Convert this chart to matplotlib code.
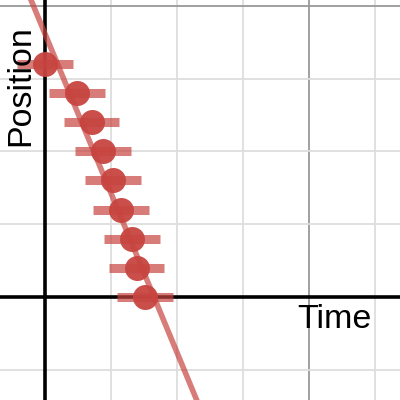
import numpy as np
import matplotlib.pyplot as plt

# data
time = [0.0, 0.485, 0.71, 0.88, 1.03, 1.15, 1.32, 1.39, 1.515]
position = [3.2, 2.8, 2.4, 2.0, 1.6, 1.2, 0.8, 0.4, 0.0]
time_err = 0.42
fit_slope = -2.19
fit_intercept = 3.62

red = '#c74440'

fig = plt.figure(figsize=(4, 4), dpi=100)
ax = fig.add_axes([0, 0, 1, 1])
xmin, xmax = -0.68, 5.38
ymin, ymax = -1.416, 4.08
ax.set_xlim(xmin, xmax)
ax.set_ylim(ymin, ymax)

# grid like a graphing calculator
for gx in range(-1, 6):
    c = '#999999' if gx == 4 else '#dddddd'
    ax.axvline(gx, color=c, lw=1.3, zorder=0)
for gy in range(-2, 5):
    c = '#999999' if gy == 4 else '#dddddd'
    ax.axhline(gy, color=c, lw=1.3, zorder=0)
ax.axvline(0, color='black', lw=2.6, zorder=1)
ax.axhline(0, color='black', lw=2.6, zorder=1)

xs = np.array([xmin, xmax])
ax.plot(xs, fit_slope * xs + fit_intercept, color=red, lw=4, alpha=0.7,
        solid_capstyle='butt', zorder=2)

ax.errorbar(time, position, xerr=time_err, fmt='none', ecolor=red,
            elinewidth=6.5, alpha=0.7, capsize=0, zorder=3)
ax.plot(time, position, 'o', color=red, ms=18, mec='none', alpha=0.95, zorder=4)

ax.text(3.82, -0.43, 'Time', fontsize=24.5, family='Liberation Sans',
        ha='left', va='baseline')
ax.text(-0.13, 2.07, 'Position', fontsize=24.5, family='Liberation Sans',
        rotation=90, ha='right', va='bottom')

ax.set_xticks([])
ax.set_yticks([])
for s in ax.spines.values():
    s.set_visible(False)

fig.savefig('out.png', dpi=100)
